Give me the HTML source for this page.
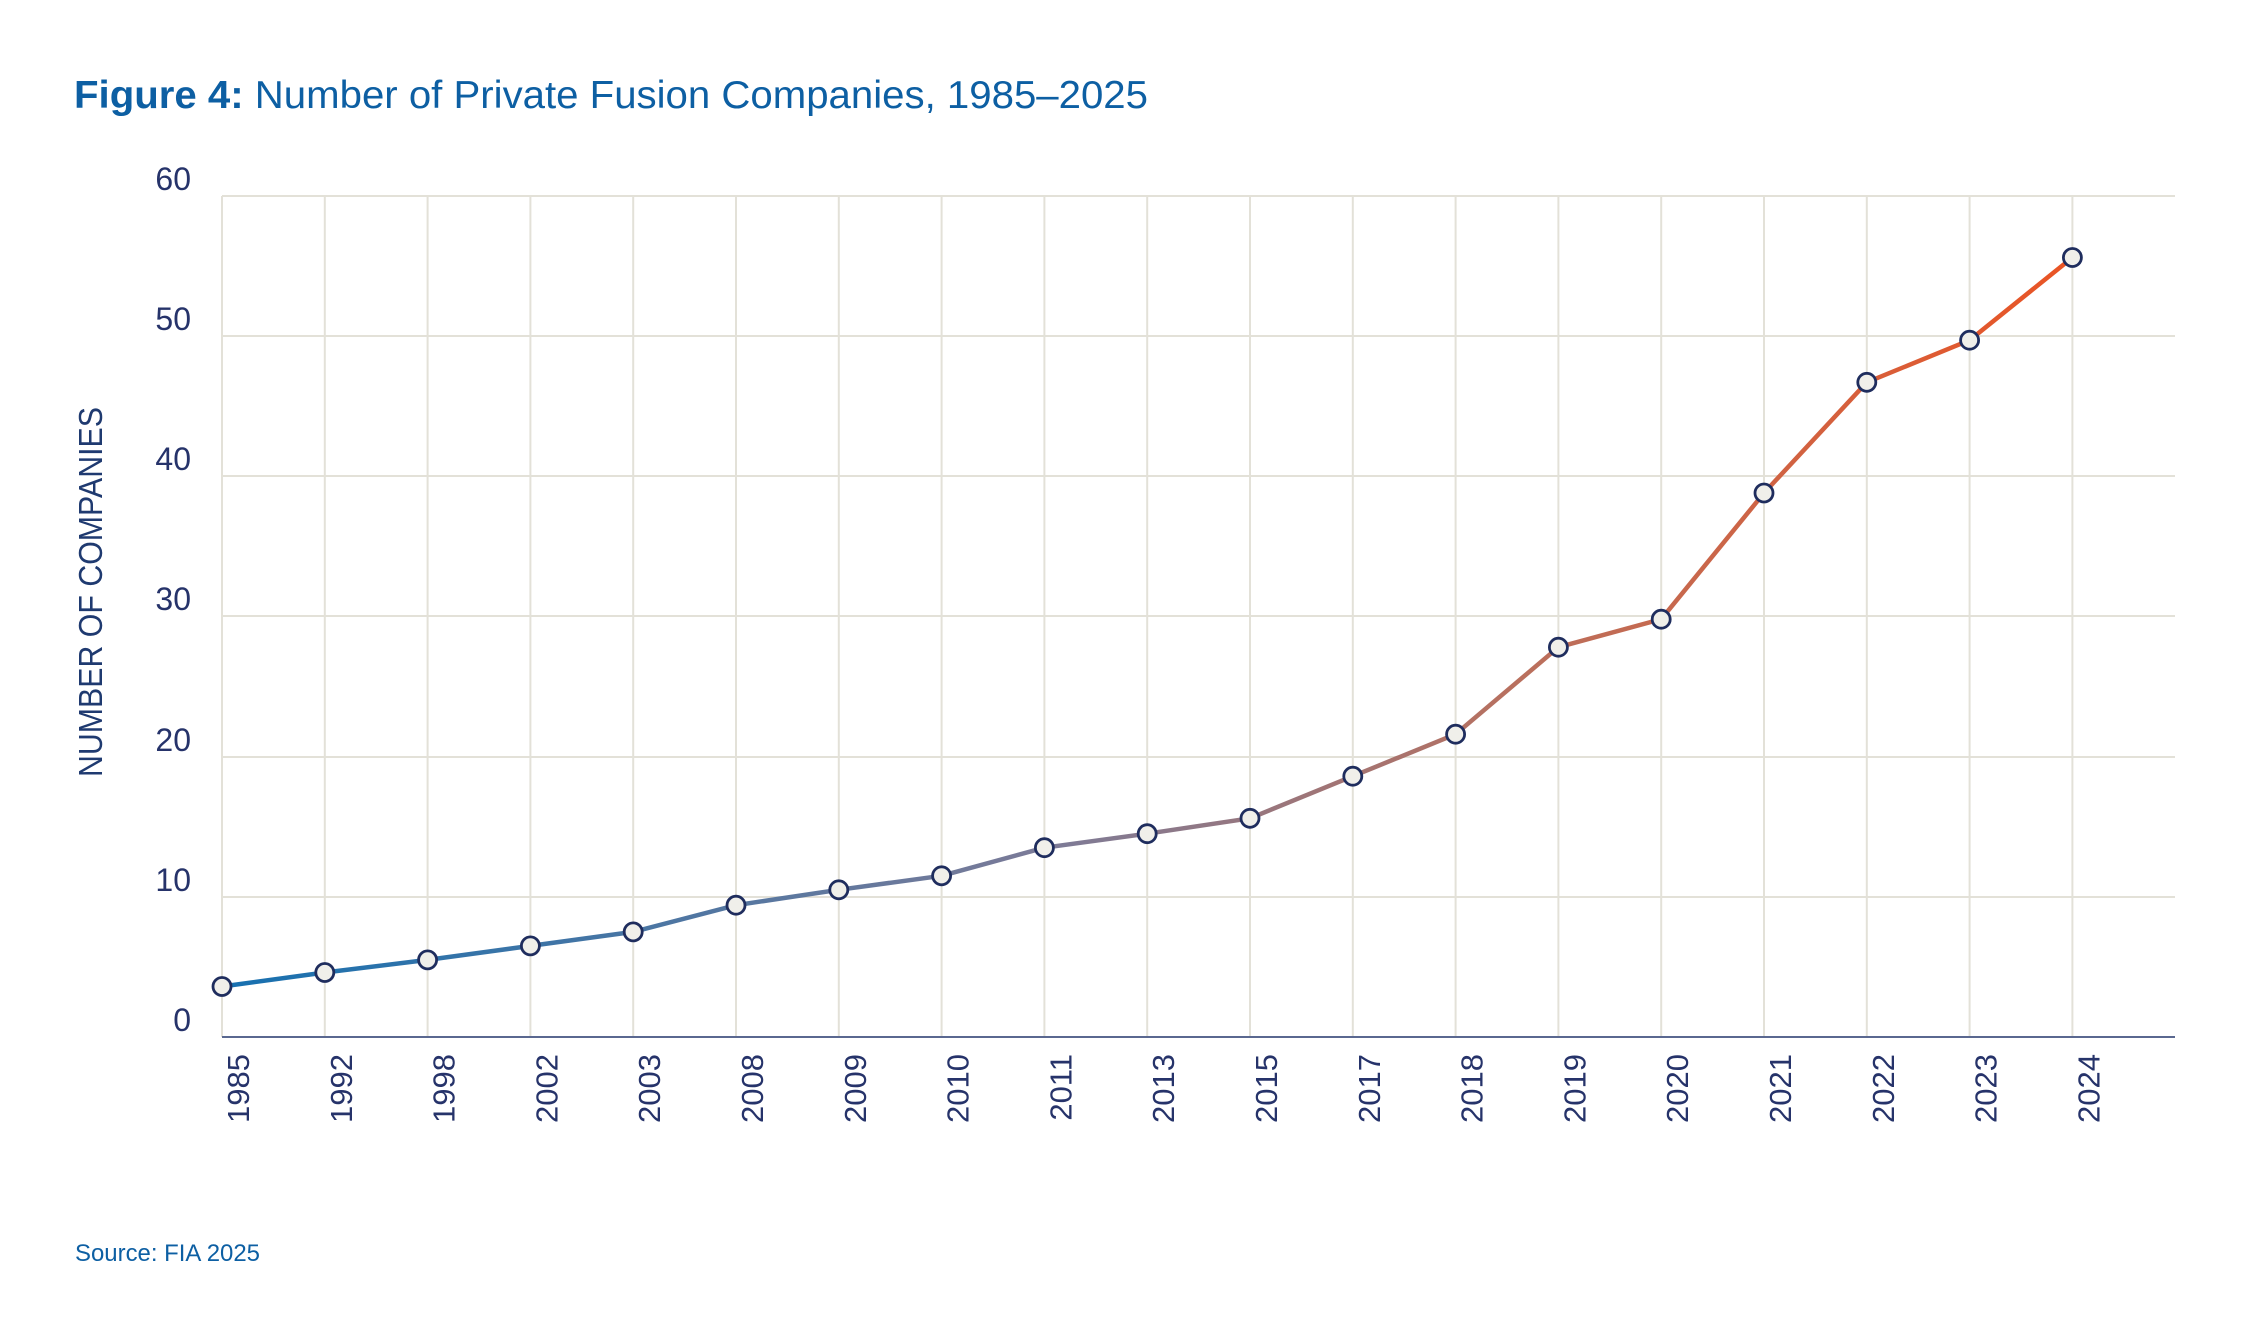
<!DOCTYPE html>
<html><head><meta charset="utf-8"><style>
html,body{margin:0;padding:0;background:#fff;}
svg{display:block;}
text{font-family:"Liberation Sans",sans-serif;}
</style></head><body>
<svg width="2250" height="1337" viewBox="0 0 2250 1337" xmlns="http://www.w3.org/2000/svg">
<defs>
<linearGradient id="lg" x1="222" y1="0" x2="2072" y2="0" gradientUnits="userSpaceOnUse">
<stop offset="0" stop-color="#1670b0"/>
<stop offset="0.45" stop-color="#7d7b97"/>
<stop offset="0.7" stop-color="#b9705e"/>
<stop offset="1" stop-color="#ea5424"/>
</linearGradient>
</defs>
<text x="74" y="108" font-size="39" fill="#0d5fa3" textLength="1074" lengthAdjust="spacingAndGlyphs"><tspan font-weight="bold">Figure 4:</tspan> Number of Private Fusion Companies, 1985–2025</text>
<g stroke="#e3e1d8" stroke-width="2">
<line x1="222" y1="196" x2="2175" y2="196"/>
<line x1="222" y1="336" x2="2175" y2="336"/>
<line x1="222" y1="476" x2="2175" y2="476"/>
<line x1="222" y1="616" x2="2175" y2="616"/>
<line x1="222" y1="757" x2="2175" y2="757"/>
<line x1="222" y1="897" x2="2175" y2="897"/>
<line x1="222" y1="196" x2="222" y2="1037"/>
<line x1="324.8" y1="196" x2="324.8" y2="1037"/>
<line x1="427.6" y1="196" x2="427.6" y2="1037"/>
<line x1="530.4" y1="196" x2="530.4" y2="1037"/>
<line x1="633.2" y1="196" x2="633.2" y2="1037"/>
<line x1="736" y1="196" x2="736" y2="1037"/>
<line x1="838.8" y1="196" x2="838.8" y2="1037"/>
<line x1="941.6" y1="196" x2="941.6" y2="1037"/>
<line x1="1044.4" y1="196" x2="1044.4" y2="1037"/>
<line x1="1147.2" y1="196" x2="1147.2" y2="1037"/>
<line x1="1250" y1="196" x2="1250" y2="1037"/>
<line x1="1352.8" y1="196" x2="1352.8" y2="1037"/>
<line x1="1455.6" y1="196" x2="1455.6" y2="1037"/>
<line x1="1558.4" y1="196" x2="1558.4" y2="1037"/>
<line x1="1661.2" y1="196" x2="1661.2" y2="1037"/>
<line x1="1764" y1="196" x2="1764" y2="1037"/>
<line x1="1866.8" y1="196" x2="1866.8" y2="1037"/>
<line x1="1969.6" y1="196" x2="1969.6" y2="1037"/>
<line x1="2072.4" y1="196" x2="2072.4" y2="1037"/>
</g>
<line x1="222" y1="1037" x2="2175" y2="1037" stroke="#5a6890" stroke-width="2"/>
<g font-size="32" fill="#26336a" text-anchor="end">
<text x="191" y="190">60</text>
<text x="191" y="330">50</text>
<text x="191" y="470">40</text>
<text x="191" y="610">30</text>
<text x="191" y="751">20</text>
<text x="191" y="891">10</text>
<text x="191" y="1031">0</text>
</g>
<text transform="translate(102,592) rotate(-90)" font-size="33" fill="#1f3a70" text-anchor="middle" textLength="370" lengthAdjust="spacingAndGlyphs">NUMBER OF COMPANIES</text>
<g font-size="31" fill="#26336a" text-anchor="end">
<text transform="translate(249,1054) rotate(-90)">1985</text>
<text transform="translate(351.8,1054) rotate(-90)">1992</text>
<text transform="translate(454.6,1054) rotate(-90)">1998</text>
<text transform="translate(557.4,1054) rotate(-90)">2002</text>
<text transform="translate(660.2,1054) rotate(-90)">2003</text>
<text transform="translate(763,1054) rotate(-90)">2008</text>
<text transform="translate(865.8,1054) rotate(-90)">2009</text>
<text transform="translate(968.6,1054) rotate(-90)">2010</text>
<text transform="translate(1071.4,1054) rotate(-90)">2011</text>
<text transform="translate(1174.2,1054) rotate(-90)">2013</text>
<text transform="translate(1277,1054) rotate(-90)">2015</text>
<text transform="translate(1379.8,1054) rotate(-90)">2017</text>
<text transform="translate(1482.6,1054) rotate(-90)">2018</text>
<text transform="translate(1585.4,1054) rotate(-90)">2019</text>
<text transform="translate(1688.2,1054) rotate(-90)">2020</text>
<text transform="translate(1791,1054) rotate(-90)">2021</text>
<text transform="translate(1893.8,1054) rotate(-90)">2022</text>
<text transform="translate(1996.6,1054) rotate(-90)">2023</text>
<text transform="translate(2099.4,1054) rotate(-90)">2024</text>
</g>
<polyline fill="none" stroke="url(#lg)" stroke-width="4.5" stroke-linejoin="round" points="222,986.5 324.8,972.5 427.6,959.9 530.4,945.9 633.2,931.9 736,905.2 838.8,889.8 941.6,875.8 1044.4,847.7 1147.2,833.7 1250,818.3 1352.8,776.2 1455.6,734.2 1558.4,647.2 1661.2,619.2 1764,493 1866.8,382.3 1969.6,340.2 2072.4,257.5"/>
<g fill="#f0efea" stroke="#1f2d5e" stroke-width="2.8">
<circle cx="222" cy="986.5" r="9"/>
<circle cx="324.8" cy="972.5" r="9"/>
<circle cx="427.6" cy="959.9" r="9"/>
<circle cx="530.4" cy="945.9" r="9"/>
<circle cx="633.2" cy="931.9" r="9"/>
<circle cx="736" cy="905.2" r="9"/>
<circle cx="838.8" cy="889.8" r="9"/>
<circle cx="941.6" cy="875.8" r="9"/>
<circle cx="1044.4" cy="847.7" r="9"/>
<circle cx="1147.2" cy="833.7" r="9"/>
<circle cx="1250" cy="818.3" r="9"/>
<circle cx="1352.8" cy="776.2" r="9"/>
<circle cx="1455.6" cy="734.2" r="9"/>
<circle cx="1558.4" cy="647.2" r="9"/>
<circle cx="1661.2" cy="619.2" r="9"/>
<circle cx="1764" cy="493" r="9"/>
<circle cx="1866.8" cy="382.3" r="9"/>
<circle cx="1969.6" cy="340.2" r="9"/>
<circle cx="2072.4" cy="257.5" r="9"/>
</g>
<text x="75" y="1261" font-size="24" fill="#0d5fa3" textLength="185" lengthAdjust="spacingAndGlyphs">Source: FIA 2025</text>
</svg>
</body></html>
